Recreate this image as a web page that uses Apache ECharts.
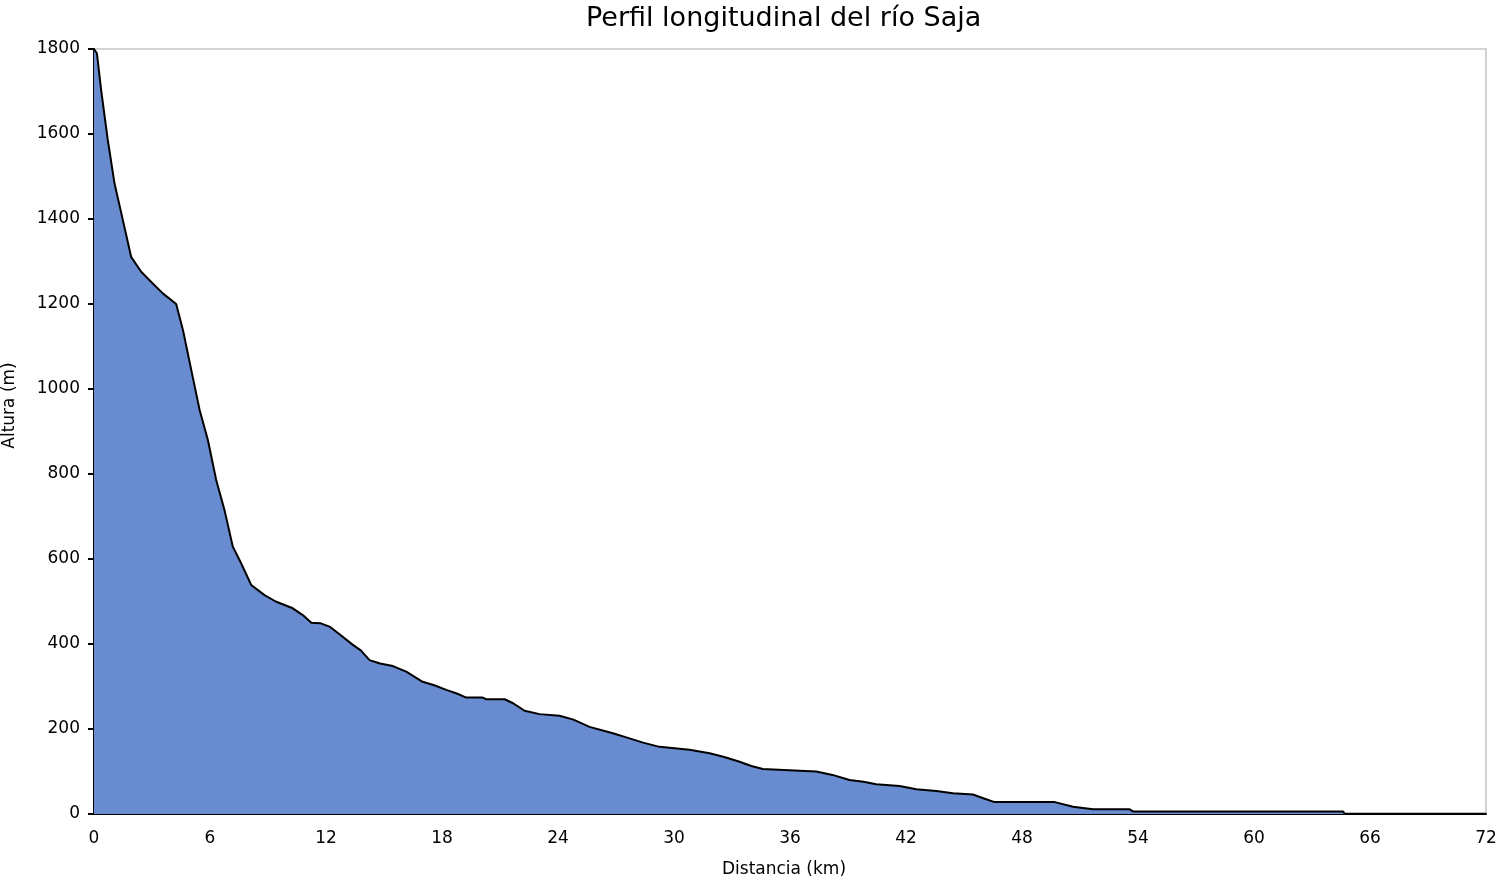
<!DOCTYPE html>
<html>
<head>
<meta charset="utf-8">
<script src="https://cdn.jsdelivr.net/npm/echarts@6/dist/echarts.min.js"></script>
<style>
html,body{margin:0;padding:0;background:#fff;}
#c{width:1497px;height:878px;}
</style>
</head>
<body>
<div id="c"></div>
<script>
const distanciaKm = [0, 0.15, 0.37, 0.7, 1.06, 1.49, 1.92, 2.44, 3.0, 3.56, 4.25, 4.6, 5.03, 5.46, 5.89, 6.32, 6.75, 7.18, 7.61, 8.13, 8.82, 9.4, 10.28, 10.8, 11.24, 11.7, 12.18, 12.7, 13.39, 13.8, 14.25, 14.8, 15.46, 16.15, 17.0, 17.6, 18.22, 18.8, 19.25, 20.1, 20.29, 21.24, 21.7, 22.27, 23.05, 24.08, 24.8, 25.63, 26.84, 27.7, 28.4, 29.25, 30.8, 31.84, 32.6, 33.39, 34.0, 34.6, 36.5, 37.36, 38.2, 39.08, 39.8, 40.46, 41.67, 42.53, 43.57, 44.43, 45.46, 46.0, 46.58, 49.7, 50.64, 51.67, 53.57, 53.74, 64.6, 64.7, 72];
const alturaM = [1800, 1790, 1703, 1590, 1484, 1398, 1311, 1276, 1250, 1225, 1200, 1139, 1045, 951, 880, 786, 715, 629, 590, 539, 515, 500, 484, 468, 450, 449, 441, 423, 398, 385, 362, 354, 348, 335, 311, 303, 292, 283, 274, 274, 270, 270, 260, 243, 235, 231, 222, 205, 190, 178, 168, 158, 151, 143, 134, 123, 113, 106, 102, 100, 92, 80, 76, 70, 66, 58, 54, 49, 46, 37, 28, 28, 17, 11, 11, 6, 6, 0.5, 0.5];
const xTicks = [0, 6, 12, 18, 24, 30, 36, 42, 48, 54, 60, 66, 72];
const yTicks = [0, 200, 400, 600, 800, 1000, 1200, 1400, 1600, 1800];

const perfil = distanciaKm.map((d, i) => [d, alturaM[i]]);
const font = 'DejaVu Sans';

const chart = echarts.init(document.getElementById('c'), null, {renderer: 'canvas'});
chart.setOption({
  animation: false,
  backgroundColor: '#ffffff',
  title: {
    text: 'Perfil longitudinal del río Saja',
    left: 581, top: 0,
    textStyle: {fontFamily: font, fontSize: 27, fontWeight: 'normal', color: '#000'}
  },
  grid: {
    left: 94, right: 11, top: 49, bottom: 64,
    outerBoundsMode: 'none', containLabel: false,
    show: true, borderColor: '#d3d3d3', borderWidth: 2, backgroundColor: 'transparent'
  },
  xAxis: {
    type: 'value', min: xTicks[0], max: xTicks[xTicks.length - 1], interval: 6,
    name: 'Distancia (km)', nameLocation: 'middle', nameGap: 47,
    nameTextStyle: {fontFamily: font, fontSize: 17, color: '#000', padding: [0, 12, 0, 0]},
    axisLine: {show: true, onZero: false, lineStyle: {color: '#000', width: 2}},
    axisTick: {show: false},
    axisLabel: {fontFamily: font, fontSize: 17, color: '#000', margin: 16, formatter: v => String(v)},
    splitLine: {show: false}
  },
  yAxis: {
    type: 'value', min: yTicks[0], max: yTicks[yTicks.length - 1], interval: 200,
    name: 'Altura (m)', nameLocation: 'middle', nameGap: 76, nameRotate: 90,
    nameTextStyle: {fontFamily: font, fontSize: 17, color: '#000', padding: [0, 0, 0, 52]},
    axisLine: {show: true, lineStyle: {color: '#000', width: 2}},
    axisTick: {show: true, length: 6, lineStyle: {color: '#000', width: 2}},
    axisLabel: {fontFamily: font, fontSize: 17, color: '#000', margin: 14, formatter: v => String(v)},
    splitLine: {show: false}
  },
  series: [{
    type: 'line',
    data: perfil,
    showSymbol: false,
    symbol: 'none',
    lineStyle: {color: '#000', width: 2},
    areaStyle: {color: '#698cd0', opacity: 1},
    z: 1
  }]
});
</script>
</body>
</html>
